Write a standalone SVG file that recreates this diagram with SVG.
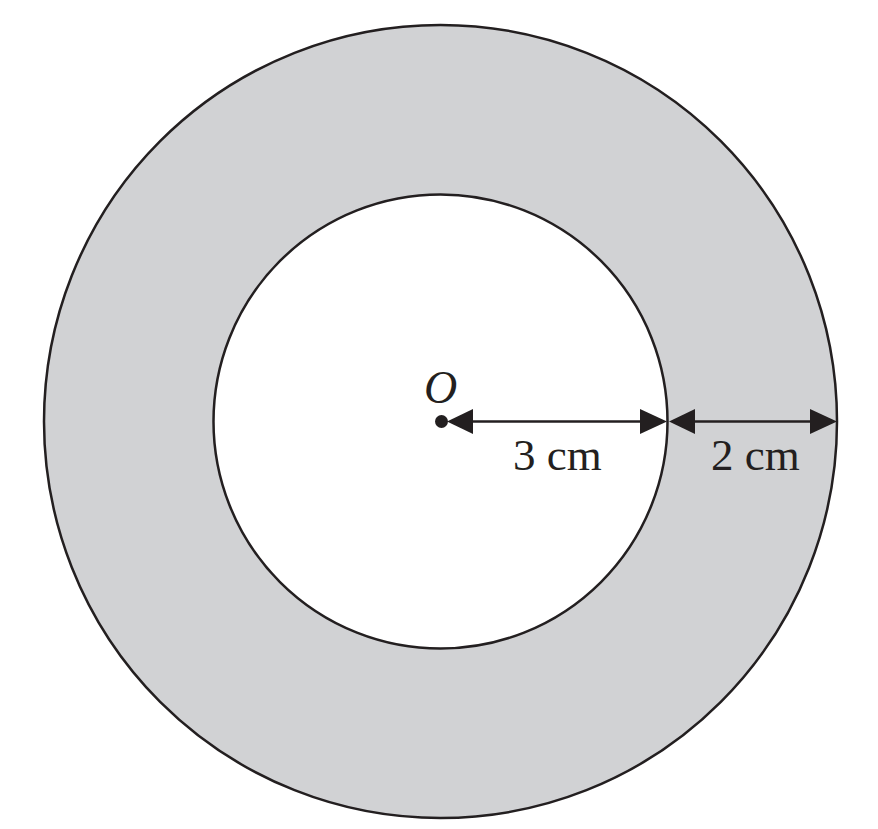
<svg xmlns="http://www.w3.org/2000/svg" width="878" height="829" viewBox="0 0 878 829">
<style>
.ring{stroke:#231f20;stroke-width:2.5}
.dim{stroke:#231f20;stroke-width:2.5;fill:none}
.ah{fill:#231f20}
text{font-family:"Liberation Serif","Times New Roman",serif;fill:#231f20}
</style>
<rect width="878" height="829" fill="#ffffff"/>
<g id="outer"><circle class="ring" cx="440.5" cy="421.5" r="396.5" fill="#d1d2d4"/></g>
<g id="inner"><circle class="ring" cx="440.5" cy="421.5" r="227" fill="#ffffff"/></g>
<g id="center"><circle cx="441.5" cy="421.5" r="6.5" fill="#231f20"/><text x="424" y="403" font-size="46" font-style="italic">O</text></g>
<g id="connectors">
<line class="dim" x1="470" y1="421.5" x2="642" y2="421.5"/>
<polygon class="ah" points="447,421.5 473,409 473,434"/>
<polygon class="ah" points="667,421.5 640,409 640,434"/>
<line class="dim" x1="693" y1="421.5" x2="812" y2="421.5"/>
<polygon class="ah" points="669,421.5 695,409 695,434"/>
<polygon class="ah" points="837,421.5 810,409 810,434"/>
</g>
<g id="labels">
<text x="513" y="470" font-size="45">3 cm</text>
<text x="711" y="470" font-size="45">2 cm</text>
</g>
</svg>
